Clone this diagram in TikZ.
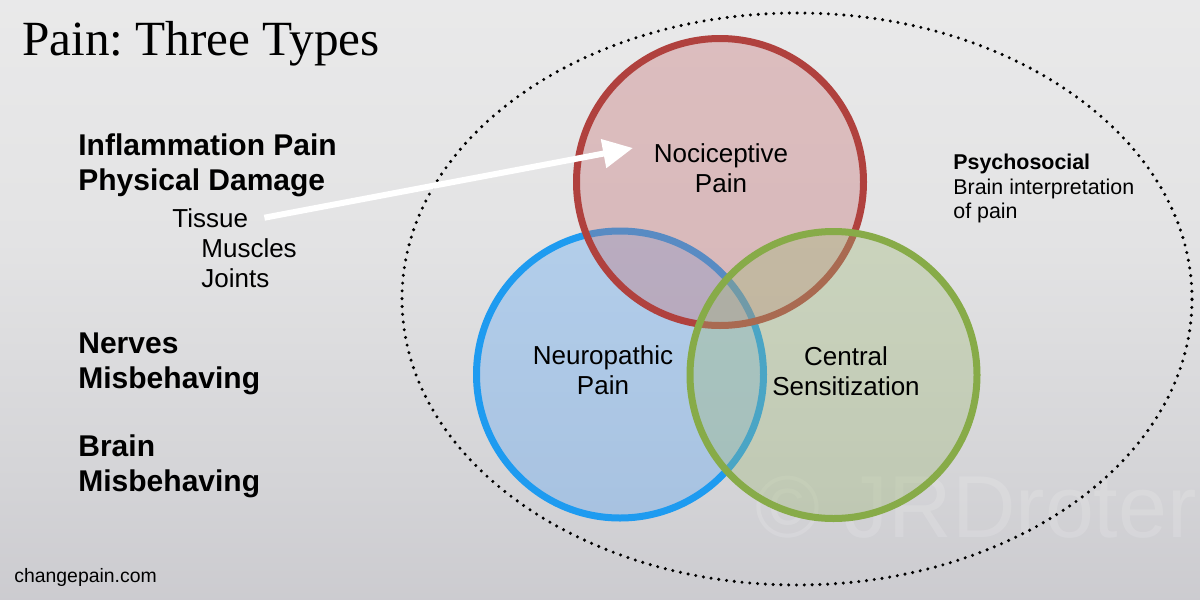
\documentclass[tikz,border=0pt]{standalone}
\usepackage{fontspec}
\setmainfont{Liberation Sans}
\newfontfamily\titlefont{Liberation Serif}
\usetikzlibrary{arrows.meta,shapes.geometric}
\frenchspacing
\definecolor{bgA}{HTML}{DADADC}
\definecolor{bgB}{HTML}{D1D0D4}
\definecolor{bgC}{HTML}{C8C7CC}
\definecolor{bgD}{HTML}{D4D4D7}
\definecolor{bgE}{HTML}{E3E3E4}
\definecolor{bgF}{HTML}{F1F1F1}
\pgfdeclareverticalshading{slidebg}{100bp}{color(0bp)=(bgA); color(8bp)=(bgB); color(20bp)=(bgC); color(35bp)=(bgD); color(55bp)=(bgE); color(100bp)=(bgF)}
\definecolor{redS}{HTML}{B0413E}
\definecolor{redF}{HTML}{C76E71}
\definecolor{blueS}{HTML}{1E9BF0}
\definecolor{blueF}{HTML}{5AA7F7}
\definecolor{greenS}{HTML}{87AB48}
\definecolor{greenF}{HTML}{9EB876}
\begin{document}
\begin{tikzpicture}[x=0.5pt,y=-0.5pt,
  vcirc/.style={circle, minimum size=143.5pt, inner sep=0pt, line width=3.5pt, fill opacity=0.35, draw opacity=1},
  psyell/.style={draw=black, ellipse, minimum width=395pt, minimum height=286pt, inner sep=0pt, line width=1.7pt, line cap=round, dash pattern=on 0pt off 3.9pt},
  boldtxt/.style={anchor=base west, inner sep=0pt, font=\fontsize{15}{18}\selectfont\bfseries},
  regtxt/.style={anchor=base west, inner sep=0pt, font=\fontsize{13}{15}\selectfont},
  circtxt/.style={align=center, inner sep=0pt, font=\fontsize{13}{15}\selectfont},
  psybold/.style={anchor=base west, inner sep=0pt, font=\fontsize{10.7}{12.25}\selectfont\bfseries},
  psyreg/.style={anchor=base west, inner sep=0pt, font=\fontsize{10.7}{12.25}\selectfont},
  whitearrow/.style={draw=white, line width=3pt, -{Triangle[length=15pt,width=14pt]}}
]
\useasboundingbox (0,0) rectangle (1200,600);
\shade[shading=slidebg] (0,0) rectangle (1200,600);
\begin{scope}
\clip (0,0) rectangle (1200,600);
\node[anchor=base west, inner sep=0pt, text=white, text opacity=0.14, font=\fontsize{44}{50}\selectfont] (wm) at (755,537) {© JRDroter};
\end{scope}
% title
\node[anchor=base west, inner sep=0pt, font=\titlefont\fontsize{24.6}{29}\selectfont] (title) at (22,55) {Pain: Three Types};
% outer dotted ellipse
\node[psyell] (psy) at (797,299) {};
% Venn circles
\node[vcirc, draw=blueS, fill=blueF] (neuro) at (620,374.5) {};
\node[vcirc, draw=redS, fill=redF] (noci) at (720,182) {};
\node[vcirc, draw=greenS, fill=greenF] (central) at (833.5,375) {};
% circle labels
\node[circtxt] (nociL) at (721,168) {Nociceptive\\Pain};
\node[circtxt] (neuroL) at (603,370.5) {Neuropathic\\Pain};
\node[circtxt] (centralL) at (846,371) {Central\\Sensitization};
% psychosocial text
\node[psybold] (psyA) at (953,169) {Psychosocial};
\node[psyreg] (psyB) at (953,194) {Brain interpretation};
\node[psyreg] (psyC) at (953,218) {of pain};
% left column
\node[boldtxt] (infl) at (78,155) {Inflammation Pain};
\node[boldtxt] (phys) at (78,190) {Physical Damage};
\node[regtxt, inner xsep=8pt] (tissue) at (156,227) {Tissue};
\node[regtxt] (muscles) at (201,257) {Muscles};
\node[regtxt] (joints) at (201,287) {Joints};
\node[boldtxt] (nerves) at (78,353) {Nerves};
\node[boldtxt] (misb1) at (78,388) {Misbehaving};
\node[boldtxt] (brain) at (78,456) {Brain};
\node[boldtxt] (misb2) at (78,491) {Misbehaving};
\node[anchor=base west, inner sep=0pt, font=\fontsize{9.7}{11}\selectfont] (site) at (14,582) {changepain.com};
% arrow
\coordinate (tip) at (633,148);
\draw[whitearrow] (tissue.east) -- (tip);
\end{tikzpicture}
\end{document}
